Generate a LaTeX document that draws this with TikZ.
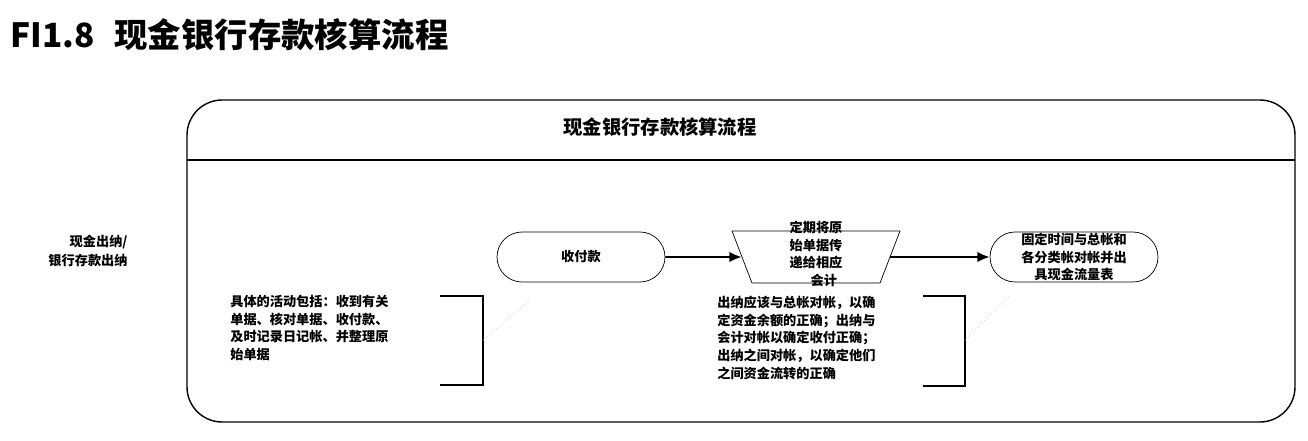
\documentclass[tikz,border=0pt]{standalone}
\usepackage{fontspec}
\setmainfont{Liberation Sans}
\newfontfamily\cjk{Noto Sans CJK SC}
\usetikzlibrary{shapes.geometric, shapes.misc, arrows.meta, positioning}

\begin{document}
\begin{tikzpicture}[x=0.02cm, y=-0.02cm,
    every node/.style={font=\cjk\bfseries\fontsize{7.5}{10}\selectfont, inner sep=0pt},
    termbox/.style={draw, rounded rectangle, minimum width=3.36cm, minimum height=1cm},
    flowarrow/.style={-{Latex[length=7pt,width=6pt]}, line width=1.1pt},
    notetext/.style={align=left, anchor=north west},
    hint/.style={gray!40, densely dotted}]
    \useasboundingbox (0,0) rectangle (1308,440);
    % title
    \node[anchor=west, font=\cjk\bfseries\fontsize{19}{22}\selectfont] (title) at (10,35) {FI1.8\hspace{0.6em}现金银行存款核算流程};
    % outer frame and header
    \draw[line width=0.8pt, rounded corners=20pt] (187,100) rectangle (1295,422);
    \draw[line width=0.8pt] (187,160) -- (1295,160);
    \node[font=\cjk\bfseries\fontsize{11}{13}\selectfont] (head) at (660,127) {现金银行存款核算流程};
    % role
    \node[align=right] (role) at (88,251) {现金出纳/\hspace{1.2em}\\[1pt]银行存款出纳};
    % flow shapes
    \node[termbox] (pay) at (581,257) {收付款};
    \draw (732,231) -- (900,231) -- (880,283) -- (752,283) -- cycle;
    \node[minimum width=2.96cm, minimum height=1.04cm] (pass) at (816,257) {};
    \node[align=center] (passtxt) at (816,254) {定期将原\\始单据传\\递给相应\\\hspace{1.2em}会计};
    \node[termbox, align=center] (check) at (1074,257) {固定时间与总帐和\\各分类帐对帐并出\\具现金流量表};
    \draw[flowarrow] (pay) -- (pass);
    \draw[flowarrow] (pass) -- (check);
    % notes with brackets
    \node[notetext] (note1) at (230,295) {具体的活动包括：收到有关\\单据、核对单据、收付款、\\及时记录日记帐、并整理原\\始单据};
    \coordinate (b1) at (483,340);
    \draw[line width=1pt] (440,296) -| (483,385) -- (440,385);
    \draw[hint] (b1) -- (530,300);
    \node[notetext] (note2) at (717,296) {出纳应该与总帐对帐，以确\\定资金余额的正确；出纳与\\会计对帐以确定收付正确；\\出纳之间对帐，以确定他们\\之间资金流转的正确};
    \coordinate (b2) at (965,340);
    \draw[line width=1pt] (923,296) -| (965,386) -- (923,386);
    \draw[hint] (b2) -- (1010,295);
\end{tikzpicture}
\end{document}
